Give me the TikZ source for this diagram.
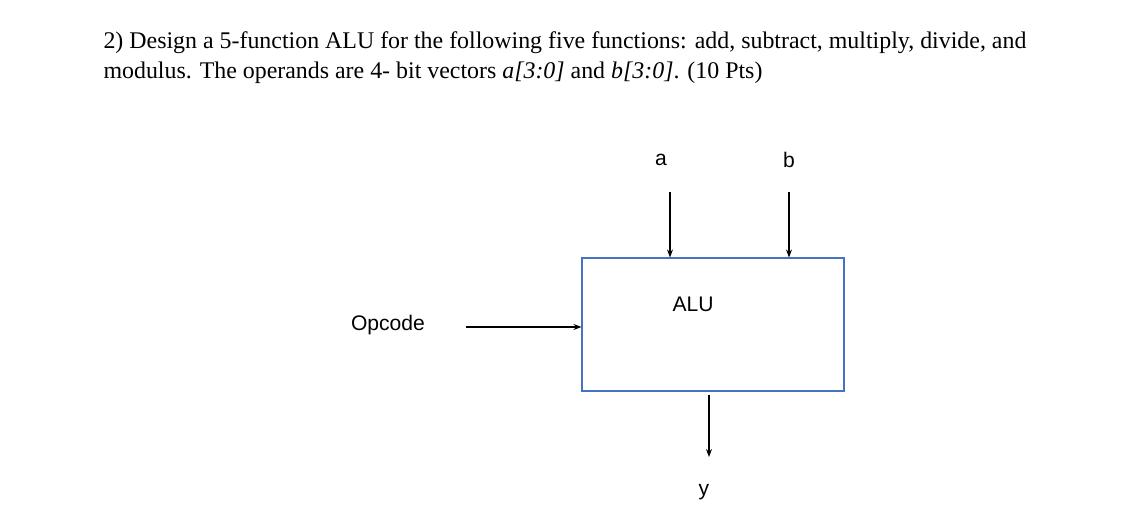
\documentclass[tikz,border=0pt]{standalone}
\usepackage{fontspec}
\setmainfont{Liberation Serif}
\newfontfamily\arialfont{Liberation Sans}
\usetikzlibrary{positioning,arrows.meta}
\definecolor{boxblue}{HTML}{4472C4}
\tikzset{
>={Stealth[length=1.6mm,width=1.2mm]}, % small solid heads
every path/.style={line width=0.6pt},
every node/.style={inner sep=0pt},
label/.style={font=\arialfont\fontsize{12}{14}\selectfont},
question/.style={anchor=west,font=\fontsize{13.6}{16}\selectfont}
}
\begin{document}
\begin{tikzpicture}[x=0.02cm,y=-0.02cm]
   \useasboundingbox (0,0) rectangle (1126,520);
   \node[question] (line1) at (103,43) {2) Design a 5-function ALU for the following five functions: add, subtract, multiply, divide, and};
   \node[question] (line2) at (103,73) {modulus. The operands are 4- bit vectors \textit{a[3:0]} and \textit{b[3:0]}. (10 Pts)};
   \node[draw=boxblue, minimum width=262*0.02cm, minimum height=133*0.02cm] (alu) at (713,324.5) {};
   \node[label] (alutext) at (693,304) {ALU};
   \node[label] (a) at (661,160) {a};
   \node[label] (b) at (789,160) {b};
   \node[label] (opcode) at (388,325) {Opcode};
   \node[label] (y) at (704,492) {y};
   \coordinate (ain) at (670,192);
   \coordinate (bin) at (789,192);
   \coordinate (opin) at (466,327);
   \coordinate (yout) at (709,457);
   \draw[->] (ain) -- (ain |- alu.north);
   \draw[->] (bin) -- (bin |- alu.north);
   \draw[->] (opin) -- (opin -| alu.west);
   \draw[->] (yout |- alu.south) ++(0,3) -- (yout);
\end{tikzpicture}
\end{document}
